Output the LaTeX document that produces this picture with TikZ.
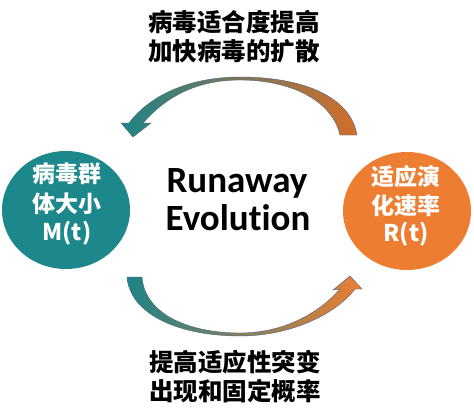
\documentclass[tikz,border=0pt]{standalone}
\usepackage{fontspec}
\newfontfamily\cjk{Noto Sans CJK SC}
\newfontfamily\carl[Ligatures=NoCommon]{Carlito}
\usetikzlibrary{shapes.geometric}
\definecolor{tealc}{RGB}{28,136,140}
\definecolor{orangec}{RGB}{237,125,49}
\definecolor{navyc}{RGB}{64,74,128}
\definecolor{arcteal}{RGB}{30,132,134}
\definecolor{arcorangeA}{RGB}{210,110,42}
\definecolor{arcorangeB}{RGB}{236,126,50}
\definecolor{edgec}{RGB}{85,95,135}
\begin{document}
\begin{tikzpicture}[x=1pt,y=-1pt,
  blob/.style={ellipse,minimum width=128pt,minimum height=118pt,inner sep=0pt,draw=none},
  cjkline/.style={anchor=base,inner sep=0pt,font=\cjk\bfseries\fontsize{24.5}{24.5}\selectfont},
  circline/.style={anchor=base,inner sep=0pt,text=white,font=\cjk\bfseries\fontsize{23}{23}\selectfont},
  titleline/.style={anchor=base,inner sep=0pt,font=\carl\bfseries\fontsize{37}{37}\selectfont},
  arcshape/.style={draw=edgec,line width=0.4pt}]
\useasboundingbox (0,0) rectangle (474,420);
\fill[white] (0,0) rectangle (474,420);

% circles
\node[blob,fill=tealc] (M) at (66,210) {};
\node[blob,fill=orangec] (R) at (407,211) {};

% circle texts
\node[circline] (m1) at (67,182) {病毒群};
\node[circline] (m2) at (67,212) {体大小};
\node[circline] (m3) at (67,240) {M(t)};
\node[circline] (r1) at (406,185) {适应演};
\node[circline] (r2) at (406,214) {化速率};
\node[circline] (r3) at (406,241) {R(t)};

% center title
\node[titleline] (t1) at (237,192) {Runaway};
\node[titleline] (t2) at (238,230) {Evolution};

% top and bottom captions
\node[cjkline] (a1) at (234,32) {病毒适合度提高};
\node[cjkline] (a2) at (234,60) {加快病毒的扩散};
\node[cjkline] (b1) at (235,371) {提高适应性突变};
\node[cjkline] (b2) at (235,400) {出现和固定概率};

% top arc arrow (from R to M)
\shadedraw[arcshape,left color=arcteal,middle color=navyc,right color=arcorangeA]
  (357,135) .. controls (350,95) and (300,77) .. (240,77)
  .. controls (190,77) and (150,95) .. (129,123)
  -- (121,123) -- (133,137) -- (151,123) -- (143,123)
  .. controls (165,98) and (195,80) .. (240,80)
  .. controls (290,80) and (332,100) .. (340,135) -- cycle;

% bottom arc arrow (from M to R)
\shadedraw[arcshape,left color=arcteal,middle color=navyc,right color=arcorangeB]
  (127,277) .. controls (130,315) and (180,336) .. (240,336)
  .. controls (290,336) and (335,315) .. (355,289)
  -- (362,289) -- (350,276) -- (333,290) -- (340,289)
  .. controls (320,312) and (285,333) .. (240,333)
  .. controls (190,333) and (145,315) .. (142,277) -- cycle;
\end{tikzpicture}
\end{document}
